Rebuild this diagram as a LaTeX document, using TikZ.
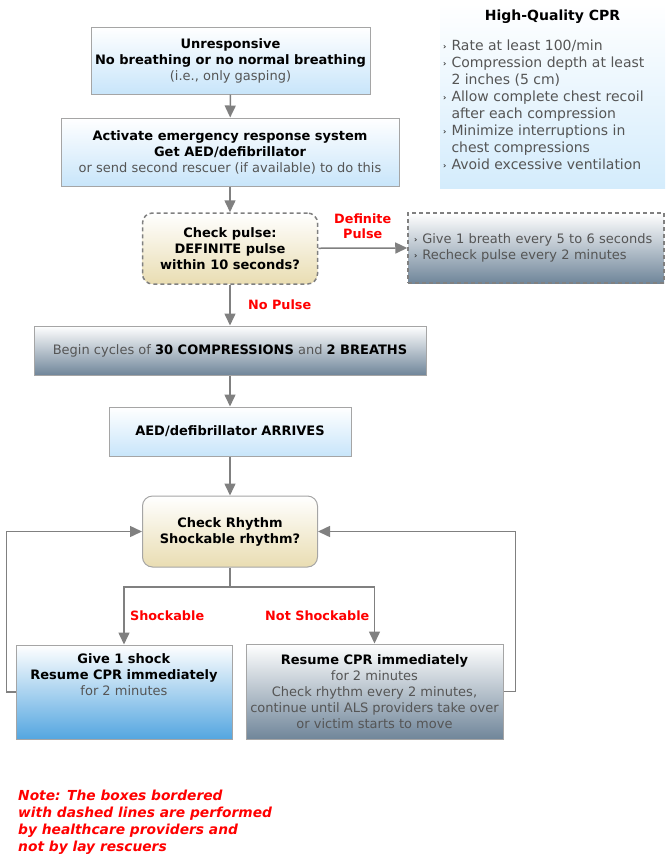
\documentclass[tikz,border=0pt]{standalone}
\usepackage{fontspec}
\setmainfont{DejaVu Sans}
\usetikzlibrary{arrows.meta, shapes, positioning}
\usepackage{xcolor}
\definecolor{boxline}{RGB}{165,165,165}
\definecolor{flowgray}{RGB}{128,128,128}
\definecolor{paleblue}{RGB}{200,229,250}
\definecolor{skypale}{RGB}{212,236,252}
\definecolor{slate}{RGB}{112,134,154}
\definecolor{cream}{RGB}{233,221,178}
\definecolor{shockblue}{RGB}{84,166,224}
\definecolor{softgray}{RGB}{85,85,85}
\definecolor{notered}{RGB}{255,0,0}
\tikzset{bluebox/.style={rectangle, draw=boxline, line width=1pt, top color=white, bottom color=paleblue, align=center, inner sep=2pt},
slatebox/.style={rectangle, draw=boxline, line width=1pt, top color=white, bottom color=slate, align=center, inner sep=2pt},
creambox/.style={rectangle, rounded corners=10pt, draw=boxline, line width=1pt, top color=white, bottom color=cream, align=center, inner sep=2pt},
dashedline/.style={draw=flowgray, line width=1.5pt, dash pattern=on 4pt off 3pt},
flow/.style={draw=flowgray, line width=1.5pt, -{Triangle[width=11pt, length=12pt]}},
plainflow/.style={draw=flowgray, line width=1.5pt},
redlabel/.style={text=notered, font=\fontsize{12.8}{15}\selectfont\bfseries, align=center}}
\newcommand{\soft}[1]{{\color{softgray}\mdseries #1}}
\newcommand{\mk}{{\fontsize{8}{8}\selectfont\bfseries\color{black!80}\raisebox{1pt}{›}}\hspace{5pt}}

\begin{document}
\begin{tikzpicture}[x=1pt, y=-1pt, font=\fontsize{13}{16}\selectfont]
                \useasboundingbox (0,0) rectangle (670,860);

                % High-Quality CPR panel
                \node[rectangle, top color=white, bottom color=skypale, minimum width=225pt, minimum height=185pt] (hq) at (552.5,95.5) {};
                \node[font=\fontsize{14}{17}\selectfont\bfseries, below=4pt of hq.north] (hqtitle) {High-Quality CPR};
                \node[anchor=north west, align=left, text=softgray, inner sep=0pt, font=\fontsize{14}{17}\selectfont] (hqlist) at (443,40) {\mk Rate at least 100/min\\ \mk Compression depth at least\\ \phantom{\mk}2 inches (5 cm)\\ \mk Allow complete chest recoil\\ \phantom{\mk}after each compression\\ \mk Minimize interruptions in\\ \phantom{\mk}chest compressions\\ \mk Avoid excessive ventilation};

                % Main chain
                \node[bluebox, minimum width=279pt, minimum height=67pt] (unresp) at (230.5,60.5) {\textbf{Unresponsive}\\ \textbf{No breathing or no normal breathing}\\ \soft{(i.e., only gasping)}};
                \node[bluebox, minimum width=338pt, minimum height=68pt] (activate) at (230,152) {\textbf{Activate emergency response system}\\ \textbf{Get AED/defibrillator}\\ \soft{or send second rescuer (if available) to do this}};
                \node[creambox, dashedline, minimum width=175pt, minimum height=71pt] (pulse) at (230,248.5) {\textbf{Check pulse:}\\ \textbf{DEFINITE pulse}\\ \textbf{within 10 seconds?}};
                \node[slatebox, dashedline, minimum width=256pt, minimum height=70pt, text=softgray, align=left, text width=244pt] (breath) at (536,248) {\mk Give 1 breath every 5 to 6 seconds\\ \mk Recheck pulse every 2 minutes};
                \node[slatebox, minimum width=392pt, minimum height=49pt] (cycles) at (230,350.5) {\soft{Begin cycles of} \textbf{30 COMPRESSIONS} \soft{and} \textbf{2 BREATHS}};
                \node[bluebox, minimum width=242pt, minimum height=49pt] (aed) at (230,431.5) {\textbf{AED/defibrillator ARRIVES}};
                \node[creambox, minimum width=175pt, minimum height=71pt] (rhythm) at (230,531.5) {\textbf{Check Rhythm}\\ \textbf{Shockable rhythm?}};
                \node[rectangle, draw=boxline, line width=1pt, top color=white, bottom color=shockblue, align=center, minimum width=216pt, minimum height=94pt, text depth=34pt] (shock) at (124,692) {\textbf{Give 1 shock}\\ \textbf{Resume CPR immediately}\\ \soft{for 2 minutes}};
                \node[slatebox, minimum width=257pt, minimum height=95pt] (resume) at (374.5,691.5) {\textbf{Resume CPR immediately}\\ \soft{for 2 minutes}\\ \soft{Check rhythm every 2 minutes,}\\ \soft{continue until ALS providers take over}\\ \soft{or victim starts to move}};

                % Connectors
                \draw[flow] (unresp) -- (activate);
                \draw[flow] (activate) -- (pulse);
                \draw[flow] (pulse) -- node[redlabel, midway, above=5pt] {Definite\\ Pulse} (breath.west);
                \draw[flow] (pulse) -- node[redlabel, midway, right=14pt] {No Pulse} (cycles);
                \draw[flow] (cycles) -- (aed);
                \draw[flow] (aed) -- (rhythm);

                \coordinate (split) at (230,587);
                \draw[plainflow] (rhythm) -- (split);
                \draw[flow] (split) -| node[redlabel, pos=0.75, right=2pt] {Shockable} (shock);
                \draw[flow] (split) -| node[redlabel, pos=0.75, left=1pt] {Not Shockable} (resume);

                % Loops back
                \draw[flow] (shock.west) -- ++(-9,0) |- (rhythm.west);
                \draw[flow] (resume.east) -- ++(12,0) |- (rhythm.east);

                % Note
                \node[anchor=north west, align=left, text=notered, inner sep=0pt, font=\fontsize{13.8}{17}\selectfont\bfseries\itshape] (note) at (18,790) {Note: The boxes bordered\\ with dashed lines are performed\\ by healthcare providers and\\ not by lay rescuers};
\end{tikzpicture}
\end{document}
